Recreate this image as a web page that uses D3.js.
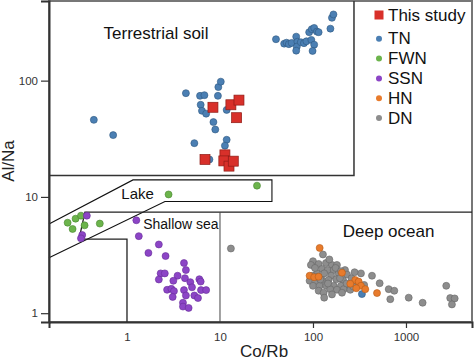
<!DOCTYPE html>
<html>
<head>
<meta charset="utf-8">
<script src="https://cdn.jsdelivr.net/npm/d3@7"></script>
<style>
  body { margin: 0; background: #fff; }
  svg { display: block; font-family: "Liberation Sans", Arial, sans-serif; }
</style>
</head>
<body>
<svg id="chart" width="474" height="361"></svg>
<script>
// [Co/Rb, Al/Na] pairs
const thisStudy = [
  [8.4, 59], [13.1, 62], [16, 68], [15.1, 48],
  [6.9, 21], [11.3, 23], [11, 20.4], [12.5, 18.4], [13.9, 20.3]
];
const tn = [
  [0.44, 46], [0.71, 34], [4.3, 78], [6.1, 74], [6.8, 75], [9.5, 74], [9.6, 88], [10.2, 98],
  [6.2, 62], [6.4, 55], [7.1, 52], [8.5, 44], [8.9, 38], [11.8, 56], [5.3, 29], [11.8, 31],
  [11.3, 27.6], [7.7, 21],
  [40, 227], [49, 208], [52, 212], [55, 206], [59, 211], [66, 239], [68, 216], [67, 196],
  [66, 181], [74, 214], [80, 210], [85, 218], [91, 261], [97, 277], [103, 284], [110, 264],
  [115, 261], [96, 224], [103, 204], [99, 180], [154, 280], [160, 347], [166, 371],
  [336, 1.46]
];
const fwn = [
  [0.23, 6.0], [0.28, 6.5], [0.32, 6.9], [0.26, 5.3], [0.35, 5.7], [0.51, 5.9],
  [2.8, 10.5], [25, 12.5]
];
const ssn = [
  [0.37, 6.9], [0.33, 4.7], [0.32, 4.4], [1.26, 6.3], [1.34, 4.6], [1.7, 3.3], [2.2, 3.9],
  [2.6, 3.1], [4.1, 2.7], [4.3, 2.35], [3.5, 2.1], [2.3, 2.2], [2.55, 2.2], [2.2, 1.95],
  [3.15, 1.9], [4.2, 2.0], [4.8, 1.85], [6.0, 1.96], [6.2, 1.87], [5.0, 1.67], [2.7, 1.59],
  [3.0, 1.62], [3.2, 1.55], [4.1, 1.58], [6.25, 1.58], [7.1, 1.58], [3.1, 1.38], [4.3, 1.42],
  [5.3, 1.42], [5.8, 1.35], [4.0, 1.23], [4.0, 1.14], [4.6, 1.11]
];
const dn = [
  [128, 3.2], [100, 2.8], [95, 2.6], [115, 2.65], [138, 2.7], [160, 2.6], [181, 2.6],
  [125, 2.4], [144, 2.35], [167, 2.35], [221, 2.35], [110, 2.2], [132, 2.2], [157, 2.1],
  [189, 2.2], [232, 2.15], [328, 2.2], [431, 2.1], [92, 1.9], [106, 1.87], [125, 1.93],
  [147, 1.93], [178, 1.96], [210, 1.93], [100, 1.72], [118, 1.72], [139, 1.72], [167, 1.72],
  [200, 1.72], [242, 1.72], [115, 1.56], [130, 1.5], [153, 1.61], [181, 1.59], [214, 1.61],
  [252, 1.59], [132, 1.36], [521, 1.81], [652, 1.61], [749, 1.56], [678, 1.32], [1070, 1.36],
  [1510, 1.23], [2710, 1.72], [2990, 1.35], [3340, 1.34], [3120, 1.19], [13.1, 3.6],
  [150, 2.9], [105, 2.45], [175, 2.45], [200, 2.3], [260, 2.0], [290, 1.85], [112, 2.05],
  [195, 2.0], [230, 1.8], [270, 1.7], [160, 1.45], [205, 1.5], [145, 1.8], [120, 1.95],
  [280, 2.25], [98, 2.1], [355, 1.75]
];
const hn = [
  [118, 3.64], [92, 2.1], [103, 2.04], [115, 2.06], [205, 2.23], [285, 1.93], [310, 1.87],
  [328, 1.72], [365, 1.61], [292, 1.64], [488, 1.49], [252, 1.79]
];

const xTicks = [1, 10, 100, 1000];
const yTicks = [1, 10, 100];

// field boundaries, in data units
const xMin = 0.145, xMax = 5128, yMin = 0.84, yMax = 484;
const terrestrialBox = [[xMin, 15.3], [276, 15.3], [276, yMax]];
const lakeBox = [[xMin, 5.86], [1.16, 14.0], [36.2, 14.0], [36.2, 9.12], [2.56, 9.12], [xMin, 3.0]];
const shallowTop = [[xMax, 7.39], [0.353, 7.39], [0.305, 4.33], [1, 4.33], [1, yMin]];
const oceanDivide = [[10, 7.39], [10, yMin]];

const series = [
  {name: 'TN', data: tn, fill: '#4b7fb3', stroke: '#2d5880'},
  {name: 'FWN', data: fwn, fill: '#6cb44c', stroke: '#48862f'},
  {name: 'SSN', data: ssn, fill: '#8c45c6', stroke: '#672c98'},
  {name: 'DN', data: dn, fill: '#8d8d8d', stroke: '#666'},
  {name: 'HN', data: hn, fill: '#e87b2c', stroke: '#b65a17'}
];
const legendItems = [
  {name: 'This study', fill: '#d8302a', square: true},
  {name: 'TN', fill: '#4b7fb3'},
  {name: 'FWN', fill: '#6cb44c'},
  {name: 'SSN', fill: '#8c45c6'},
  {name: 'HN', fill: '#e87b2c'},
  {name: 'DN', fill: '#8d8d8d'}
];

const svg = d3.select('#chart');

const x = d3.scaleLog().domain([xMin, xMax]).range([49, 472]);
const y = d3.scaleLog().domain([yMin, yMax]).range([322, 1]);

const line = d3.line().x(d => x(d[0])).y(d => y(d[1]));

// outer frame
svg.append('rect')
  .attr('x', x(xMin)).attr('y', y(yMax))
  .attr('width', x(xMax) - x(xMin)).attr('height', y(yMin) - y(yMax))
  .attr('fill', 'none').attr('stroke', '#777').attr('stroke-width', 2);

svg.append('path').attr('d', line(terrestrialBox))
  .attr('fill', 'none').attr('stroke', '#333').attr('stroke-width', 1.5);
svg.append('path').attr('d', line(lakeBox))
  .attr('fill', 'none').attr('stroke', '#111').attr('stroke-width', 1.1);
svg.append('path').attr('d', line(shallowTop))
  .attr('fill', 'none').attr('stroke', '#222').attr('stroke-width', 1.3);
svg.append('path').attr('d', line(oceanDivide))
  .attr('fill', 'none').attr('stroke', '#444').attr('stroke-width', 1);

// points
series.forEach(s => {
  svg.append('g')
    .selectAll('circle')
    .data(s.data)
    .join('circle')
    .attr('cx', d => x(d[0]))
    .attr('cy', d => y(d[1]))
    .attr('r', 3.5)
    .attr('fill', s.fill)
    .attr('stroke', s.stroke)
    .attr('stroke-width', 0.6);
});

const sq = 10;
svg.append('g')
  .selectAll('rect')
  .data(thisStudy)
  .join('rect')
  .attr('x', d => x(d[0]) - sq / 2)
  .attr('y', d => y(d[1]) - sq / 2)
  .attr('width', sq).attr('height', sq)
  .attr('fill', '#d8302a')
  .attr('stroke', '#8e1c16')
  .attr('stroke-width', 0.7);

// axes
const xAxis = svg.append('g')
  .attr('transform', `translate(0,${y(yMin)})`)
  .call(d3.axisBottom(x).tickValues(xTicks).tickFormat(d3.format('d')).tickSize(6).tickPadding(5));
xAxis.selectAll('.tick line').filter(d => d < 100).remove();

const yAxis = svg.append('g')
  .attr('transform', `translate(${x(xMin)},0)`)
  .call(d3.axisLeft(y).tickValues(yTicks).tickFormat(d3.format('d')).tickSize(8).tickPadding(3));

[xAxis, yAxis].forEach(g => {
  g.select('.domain').attr('stroke', '#333').attr('stroke-width', 2);
  g.selectAll('.tick line').attr('stroke', '#333').attr('stroke-width', 1.2);
  g.selectAll('.tick text').attr('fill', '#333')
    .style('font-size', '11.5px').style('font-family', '"Liberation Sans", Arial, sans-serif');
});

// axis titles
svg.append('text')
  .attr('x', 264).attr('y', 357)
  .attr('text-anchor', 'middle')
  .style('font-size', '17px').attr('fill', '#222')
  .text('Co/Rb');
svg.append('text')
  .attr('transform', 'translate(14,161) rotate(-90)')
  .attr('text-anchor', 'middle')
  .style('font-size', '17px').attr('fill', '#222')
  .text('Al/Na');

// field labels
const fieldLabels = [
  {text: 'Terrestrial soil', at: [2.05, 255], size: 17},
  {text: 'Lake', at: [1.3, 10.6], size: 15},
  {text: 'Shallow sea', at: [3.8, 5.9], size: 14},
  {text: 'Deep ocean', at: [650, 5.0], size: 17}
];
svg.append('g')
  .selectAll('text')
  .data(fieldLabels)
  .join('text')
  .attr('x', d => x(d.at[0]))
  .attr('y', d => y(d.at[1]))
  .attr('text-anchor', 'middle')
  .attr('dominant-baseline', 'central')
  .style('font-size', d => d.size + 'px')
  .attr('fill', '#111')
  .text(d => d.text);

// legend
const legend = svg.append('g').attr('transform', 'translate(379,15)');
const rows = legend.selectAll('g')
  .data(legendItems)
  .join('g')
  .attr('transform', (d, i) => `translate(0,${i === 0 ? 0 : 4 + i * 19.8})`);
rows.filter(d => d.square).append('rect')
  .attr('x', -4.5).attr('y', -4.5).attr('width', 9).attr('height', 9)
  .attr('fill', d => d.fill);
rows.filter(d => !d.square).append('circle')
  .attr('r', 3).attr('fill', d => d.fill);
rows.append('text')
  .attr('x', 9).attr('y', 0)
  .attr('dominant-baseline', 'central')
  .style('font-size', '17px').attr('fill', '#111')
  .text(d => d.name);
</script>
</body>
</html>
